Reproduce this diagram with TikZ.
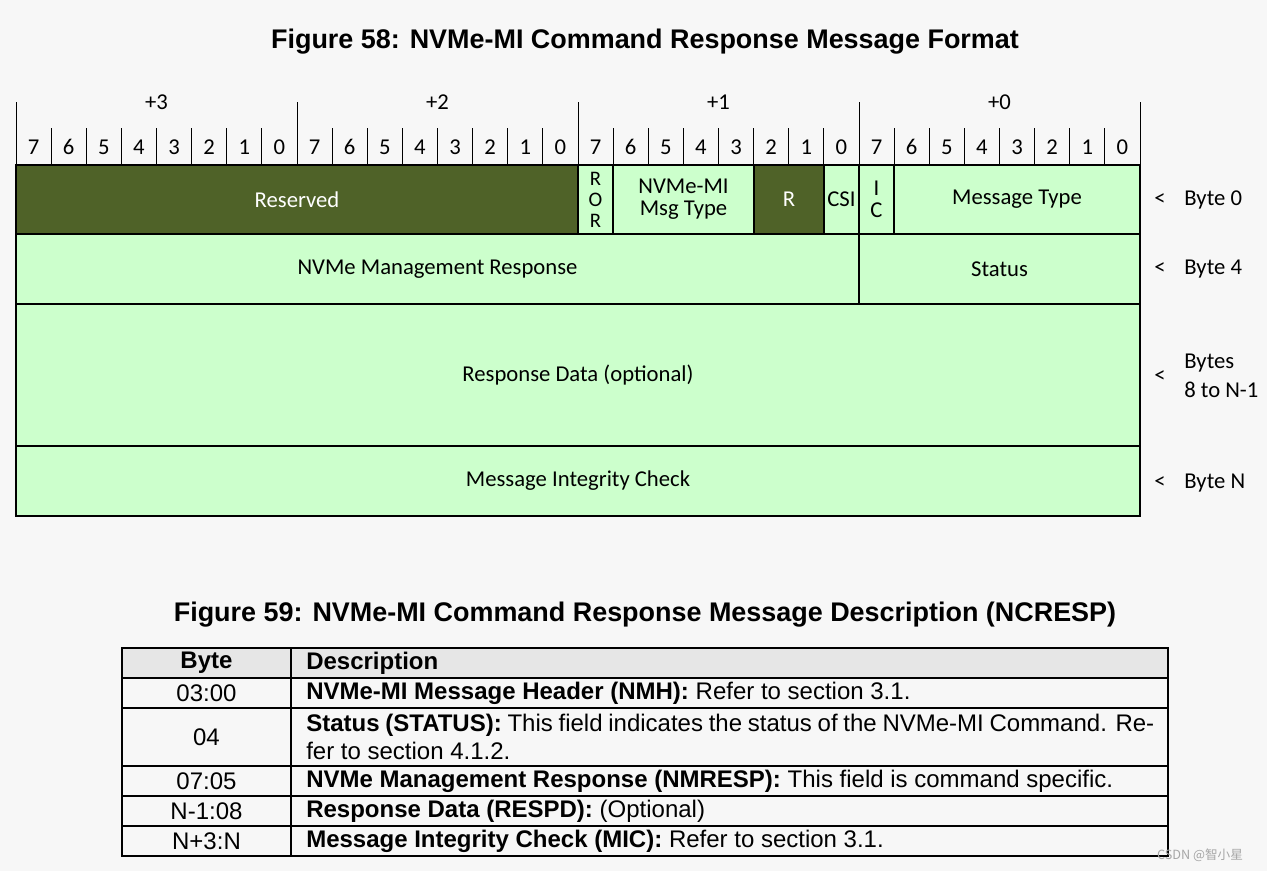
\documentclass[tikz,border=0pt]{standalone}
\usepackage{fontspec}
\setmainfont{Carlito}
\newfontfamily\arial{Liberation Sans}
\newfontfamily\cjk{Noto Sans CJK SC}
\definecolor{dk}{HTML}{4F6228}
\definecolor{lt}{HTML}{CCFFCC}
\definecolor{hd}{HTML}{E6E6E6}
\begin{document}
\begin{tikzpicture}[x=0.75pt,y=-0.75pt,
  fld/.style={draw=black,line width=0.8pt},
  txt/.style={font=\fontsize{17}{16.5}\selectfont,align=center,inner sep=0pt},
  tt/.style={font=\arial\bfseries\fontsize{20.2}{22}\selectfont,inner sep=0pt},
  tb/.style={font=\arial\fontsize{18}{21}\selectfont,inner sep=0pt,anchor=west,align=left}]
\fill[white!97!black] (0,0) rectangle (1267,871);
\useasboundingbox (0,0) rectangle (1267,871);
\node[tt] (t58) at (645,42) {Figure 58: NVMe-MI Command Response Message Format};
% header lines
\foreach \i in {0,...,4} \draw[line width=0.6pt] (16+281*\i,102) -- (16+281*\i,165);
\foreach \i in {1,...,31} \draw[line width=0.6pt] (16+35.125*\i,128) -- (16+35.125*\i,165);
\foreach \b/\l in {0/+3,1/+2,2/+1,3/+0} \node[txt] (by\b) at (156.5+281*\b,102) {\l};
\foreach \i in {0,...,31} {\pgfmathtruncatemacro{\n}{7-mod(\i,8)}
  \node[txt] (bit\i) at (33.56+35.125*\i,147) {\n};}
% row 0
\draw[fld,fill=dk] (16,165) rectangle node[txt,text=white] (res) {Reserved} (578,234);
\draw[fld,fill=lt] (578,165) rectangle node[txt,font=\fontsize{15.5}{15.75}\selectfont] (ror) {R\\O\\R} (613,234);
\draw[fld,fill=lt] (613,165) rectangle node[txt] (mmt) {NVMe-MI\\Msg Type} (754,234);
\draw[fld,fill=dk] (754,165) rectangle node[txt,text=white] (r) {R} (824,234);
\draw[fld,fill=lt] (824,165) rectangle node[txt] (csi) {CSI} (859,234);
\draw[fld,fill=lt] (859,165) rectangle node[txt] (ic) {I\\C} (894,234);
\draw[fld,fill=lt] (894,165) rectangle node[txt] (mt) {Message Type} (1140,234);
% row 1
\draw[fld,fill=lt] (16,234) rectangle node[txt] (nmr) {NVMe Management Response} (859,304);
\draw[fld,fill=lt] (859,234) rectangle node[txt] (st) {Status} (1140,304);
\draw[fld,fill=lt] (16,304) rectangle node[txt] (rd) {Response Data (optional)} (1140,446);
\draw[fld,fill=lt] (16,446) rectangle node[txt] (mic) {Message Integrity Check} (1140,516);
% right labels
\foreach \y/\t/\nm in {199.5/Byte 0/b0,269/Byte 4/b4,483/Byte N/bn} {
  \node[txt] (lt\nm) at (1160,\y) {<};
  \node[txt,anchor=west] (\nm) at (1184,\y) {\t};}
\node[txt] (ltb8) at (1160,377) {<};
\node[txt,anchor=west,align=left,font=\fontsize{17}{21.75}\selectfont] (b8) at (1184,376) {Bytes\\8 to N-1};
% table
\node[tt] (t59) at (645,615) {Figure 59: NVMe-MI Command Response Message Description (NCRESP)};
\fill[hd] (122,648) rectangle (1168,678);
\foreach \y in {678,708,766,796,826} \draw[line width=1.2pt] (122,\y) -- (1168,\y);
\draw[line width=1.5pt] (122,648) rectangle (1168,856);
\draw[line width=1.2pt] (291,648) -- (291,856);
\node[tb,anchor=center,font=\arial\bfseries\fontsize{18}{21}\selectfont] (hb) at (206.5,663) {Byte};
\node[tb,font=\arial\bfseries\fontsize{18}{21}\selectfont] (hdsc) at (306,663) {Description};
\foreach \y/\b/\nm in {693/03:00/c1,737/04/c2,781/07:05/c3,811/N-1:08/c4,841/N+3:N/c5}
  \node[tb,anchor=center] (\nm) at (206.5,\y) {\b};
\node[tb] (d1) at (306,693) {\textbf{NVMe-MI Message Header (NMH):} Refer to section 3.1.};
\node[tb,text width=636pt,align=justify] (d2) at (306,737) {\textbf{Status (STATUS):} This field indicates the status of the NVMe-MI Command. Refer to section 4.1.2.};
\node[tb] (d3) at (306,781) {\textbf{NVMe Management Response (NMRESP):} This field is command specific.};
\node[tb] (d4) at (306,811) {\textbf{Response Data (RESPD):} (Optional)};
\node[tb] (d5) at (306,841) {\textbf{Message Integrity Check (MIC):} Refer to section 3.1.};
\node[inner sep=0pt,text=black!35,font=\cjk\fontsize{9.5}{10}\selectfont] (wm) at (1200,855) {CSDN @智小星};
\end{tikzpicture}
\end{document}
